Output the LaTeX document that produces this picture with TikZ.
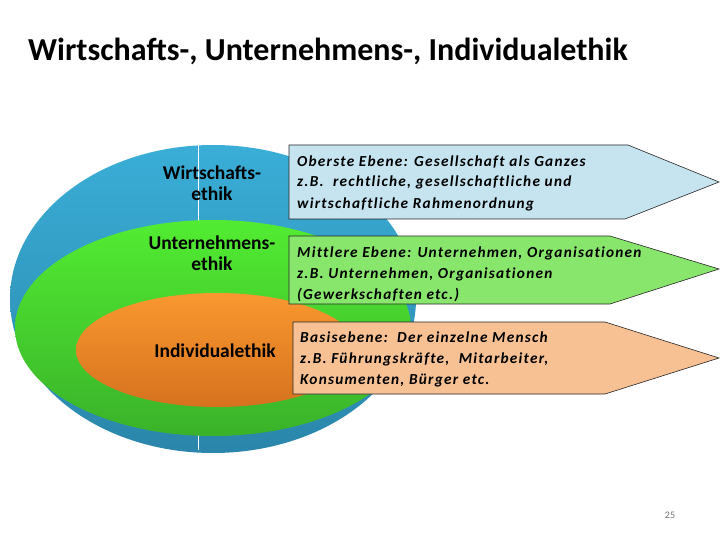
\documentclass[tikz,border=0pt]{standalone}
\usepackage{fontspec}
\setmainfont{Carlito}
\newfontfamily\notefont[LetterSpace=8,Ligatures={NoCommon}]{Carlito}
\usetikzlibrary{positioning}

\definecolor{discblue}{HTML}{3AAED7}
\definecolor{discbluedark}{HTML}{2A86AA}
\definecolor{discgreen}{HTML}{52EC32}
\definecolor{discgreendark}{HTML}{3AB22A}
\definecolor{discorange}{HTML}{F99830}
\definecolor{discorangedark}{HTML}{D6721E}
\definecolor{flagblue}{HTML}{C6E4EF}
\definecolor{flaggreen}{HTML}{88E66C}
\definecolor{flagorange}{HTML}{F7C194}

\begin{document}
\begin{tikzpicture}
    [
    x=1pt,y=-1pt,
    level/.style={font=\bfseries\fontsize{19.5}{21}\selectfont,align=center,inner sep=0pt},
    note/.style={font=\notefont\bfseries\itshape\fontsize{15.3}{21}\selectfont,align=left,anchor=base west,inner sep=0pt},
    flag/.style={draw=black!85,line width=0.6pt},
    ]
    \useasboundingbox (0,0) rectangle (720,540);
    \node (title) at (28,61) [anchor=base west,inner sep=0pt,font=\bfseries\fontsize{32}{34}\selectfont] {Wirtschafts-, Unternehmens-, Individualethik};

    % the three discs
    \shade [top color=discblue, bottom color=discbluedark] (213,299) ellipse [x radius=203, y radius=154];
    \draw [white, line width=1pt] (198,145) -- (198,450);
    \shade [top color=discgreen, middle color=discgreen, bottom color=discgreendark] (213,328) ellipse [x radius=198, y radius=108];
    \shade [top color=discorange, bottom color=discorangedark] (217,350) ellipse [x radius=141, y radius=57];

    \node (wirt) at (212,183) [level] {Wirtschafts-\\ethik};
    \node (unt) at (212,253) [level] {Unternehmens-\\ethik};
    \node (ind) at (215,351) [level] {Individualethik};

    % flags
    \draw [flag, fill=flagblue] (289,145) -- (628,145) -- (719,182) -- (625,219) -- (289,219) -- cycle;
    \draw [flag, fill=flaggreen] (289,236) -- (610,236) -- (719,269) -- (610,304) -- (289,304) -- cycle;
    \draw [flag, fill=flagorange] (293,322) -- (605,322) -- (719,358) -- (605,394) -- (293,394) -- cycle;

    % base anchor sits on the last line
    \node (top) at (297,208) [note] {Oberste Ebene: Gesellschaft als Ganzes\\z.B.\ \ rechtliche, gesellschaftliche und\\wirtschaftliche Rahmenordnung};
    \node (mid) at (297,299) [note] {Mittlere Ebene: Unternehmen, Organisationen\\z.B. Unternehmen, Organisationen\\(Gewerkschaften etc.)};
    \node (base) at (300,384) [note] {Basisebene:\ \ Der einzelne Mensch\\z.B. Führungskräfte,\ \ Mitarbeiter,\\Konsumenten, Bürger etc.};

    \node (page) at (670,515) [text=black!55,font=\fontsize{10}{12}\selectfont] {25};
  \end{tikzpicture}
\end{document}
